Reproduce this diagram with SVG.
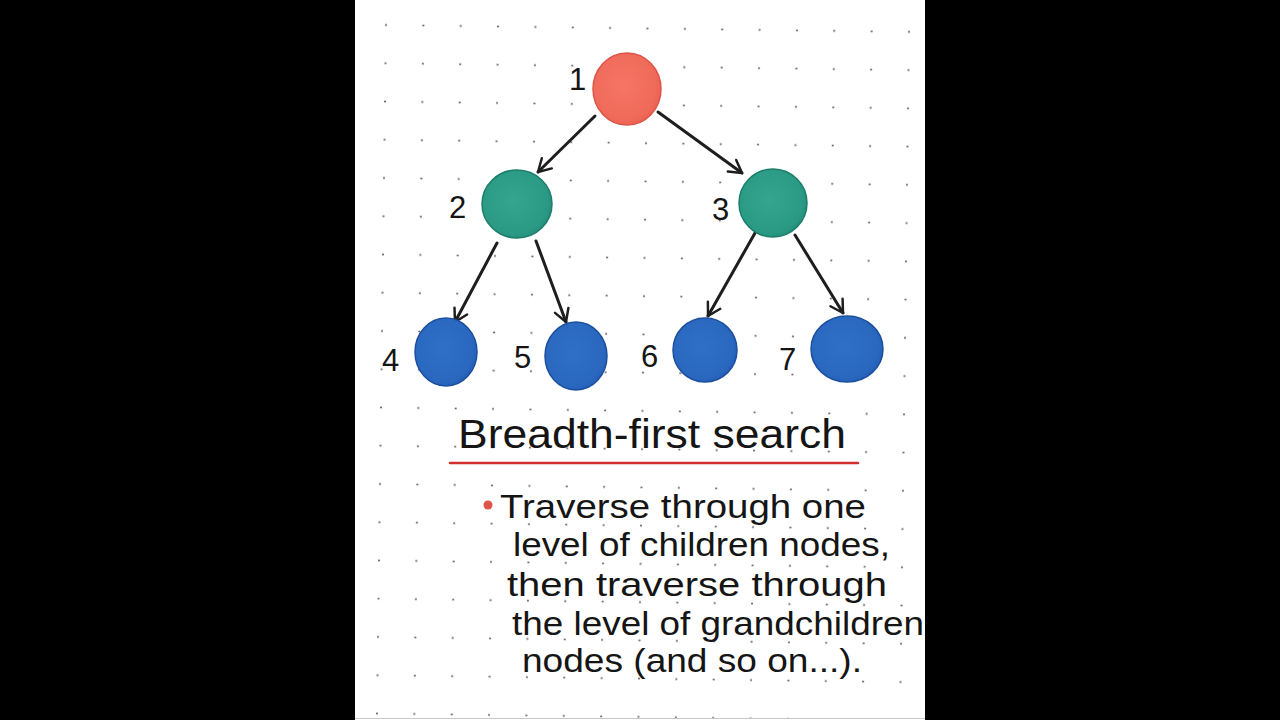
<svg xmlns="http://www.w3.org/2000/svg" width="1280" height="720" viewBox="0 0 1280 720">
  <style>
    .lbl { font-family: "Liberation Sans", "DejaVu Sans", sans-serif; font-size: 31px; fill: #151515; }
    .title { font-family: "Liberation Sans", "DejaVu Sans", sans-serif; font-size: 40px; fill: #151515; }
    .body { font-family: "Liberation Sans", "DejaVu Sans", sans-serif; font-size: 34px; fill: #151515; }
    .edge { fill: none; stroke: #1e1e1e; stroke-width: 3; stroke-linecap: round; marker-end: url(#arr); }
    .red { fill: url(#gRed); stroke: #dd5446; stroke-width: 1.5; }
    .green { fill: url(#gGreen); stroke: #1c7d6b; stroke-width: 1.5; }
    .blue { fill: url(#gBlue); stroke: #1c4f9e; stroke-width: 1.5; }
  </style>
  <defs>
    <pattern id="dots" patternUnits="userSpaceOnUse" x="367.32" y="5.875" width="37.36" height="38.25" patternTransform="rotate(0.75 386 25)">
      <circle cx="18.68" cy="19.125" r="1.1" fill="#666"/>
    </pattern>
    <radialGradient id="gRed" cx="0.45" cy="0.45" r="0.6">
      <stop offset="0" stop-color="#f47665"/>
      <stop offset="0.8" stop-color="#f06a5a"/>
      <stop offset="1" stop-color="#e85e50"/>
    </radialGradient>
    <radialGradient id="gGreen" cx="0.45" cy="0.45" r="0.6">
      <stop offset="0" stop-color="#35a590"/>
      <stop offset="0.8" stop-color="#2b9a85"/>
      <stop offset="1" stop-color="#238b77"/>
    </radialGradient>
    <radialGradient id="gBlue" cx="0.45" cy="0.45" r="0.6">
      <stop offset="0" stop-color="#2f70c6"/>
      <stop offset="0.8" stop-color="#2a68c0"/>
      <stop offset="1" stop-color="#225cb2"/>
    </radialGradient>
    <marker id="arr" viewBox="0 0 20 20" refX="17" refY="10" markerWidth="19" markerHeight="19" markerUnits="userSpaceOnUse" orient="auto">
      <path d="M4 2.5 L17 10 L4 17.5" fill="none" stroke="#1e1e1e" stroke-width="2.6" stroke-linecap="round" stroke-linejoin="round"/>
    </marker>
  </defs>

  <rect x="0" y="0" width="1280" height="720" fill="#000"/>
  <rect x="355" y="0" width="570" height="720" fill="#fff"/>
  <rect x="360" y="0" width="562" height="718" fill="url(#dots)"/>
  <line x1="355" y1="718.5" x2="925" y2="718.5" stroke="#c8c8c8" stroke-width="1"/>

  <g id="connectors">
    <line class="edge" x1="595" y1="116" x2="538" y2="172"/>
    <line class="edge" x1="658" y1="112" x2="742" y2="173"/>
    <line class="edge" x1="497" y1="243" x2="455" y2="322"/>
    <line class="edge" x1="536" y1="241" x2="566" y2="322"/>
    <line class="edge" x1="755" y1="233" x2="708" y2="316"/>
    <line class="edge" x1="795" y1="235" x2="843" y2="313"/>
  </g>

  <g id="node1">
    <ellipse class="red" cx="627" cy="89" rx="34" ry="36"/>
    <text class="lbl" x="569" y="90">1</text>
  </g>
  <g id="node2">
    <ellipse class="green" cx="517" cy="204" rx="35" ry="34"/>
    <text class="lbl" x="449" y="218">2</text>
  </g>
  <g id="node3">
    <ellipse class="green" cx="773" cy="203" rx="34" ry="34"/>
    <text class="lbl" x="712" y="220">3</text>
  </g>
  <g id="node4">
    <ellipse class="blue" cx="446" cy="352" rx="31" ry="34"/>
    <text class="lbl" x="382" y="371">4</text>
  </g>
  <g id="node5">
    <ellipse class="blue" cx="576" cy="356" rx="31" ry="34"/>
    <text class="lbl" x="514" y="368">5</text>
  </g>
  <g id="node6">
    <ellipse class="blue" cx="705" cy="350" rx="32" ry="32"/>
    <text class="lbl" x="641" y="367">6</text>
  </g>
  <g id="node7">
    <ellipse class="blue" cx="847" cy="349" rx="36" ry="33"/>
    <text class="lbl" x="779" y="370">7</text>
  </g>

  <g id="caption">
    <text class="title" x="458" y="448" textLength="388" lengthAdjust="spacingAndGlyphs">Breadth-first search</text>
    <line x1="450" y1="463" x2="858" y2="463" stroke="#d22f2f" stroke-width="2.5" stroke-linecap="round"/>
    <circle cx="488" cy="505" r="4.5" fill="#e0534a"/>
    <text class="body" x="500" y="518" textLength="366" lengthAdjust="spacingAndGlyphs">Traverse through one</text>
    <text class="body" x="513" y="556" textLength="377" lengthAdjust="spacingAndGlyphs">level of children nodes,</text>
    <text class="body" x="507" y="596" textLength="380" lengthAdjust="spacingAndGlyphs">then traverse through</text>
    <text class="body" x="512" y="635" textLength="412" lengthAdjust="spacingAndGlyphs">the level of grandchildren</text>
    <text class="body" x="522" y="672" textLength="340" lengthAdjust="spacingAndGlyphs">nodes (and so on...).</text>
  </g>
</svg>
